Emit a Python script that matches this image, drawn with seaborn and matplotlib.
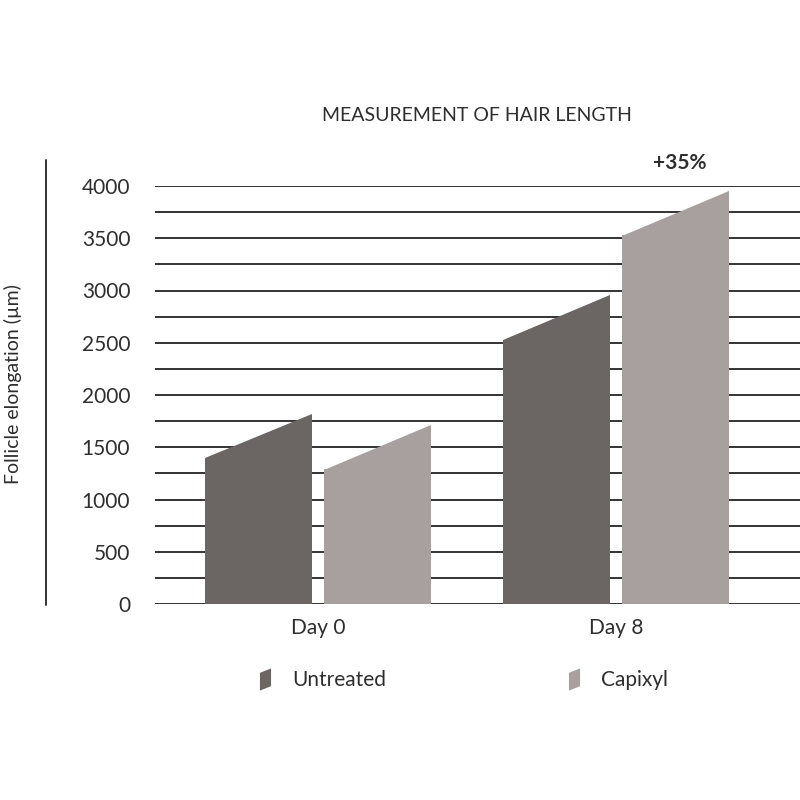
import pandas as pd
import matplotlib.pyplot as plt
import seaborn as sns
from matplotlib.patches import Polygon
from matplotlib.lines import Line2D
from matplotlib.path import Path

days = ["Day 0", "Day 8"]
groups = ["Untreated", "Capixyl"]
# left edge height and right edge height of each slanted bar
left_vals = {"Untreated": [1400, 2530], "Capixyl": [1290, 3530]}
right_vals = {"Untreated": [1820, 2960], "Capixyl": [1710, 3950]}
colores = {"Untreated": "#6b6564", "Capixyl": "#a7a09f"}
texto = "#2e2e2e"

filas = []
for g in groups:
    for i, d in enumerate(days):
        filas.append({"Day": d, "Group": g, "Low": left_vals[g][i], "High": right_vals[g][i]})
df = pd.DataFrame(filas)

sns.set_theme(style="white")
plt.rcParams['font.family'] = ['Lato', 'DejaVu Sans']

fig = plt.figure(figsize=(8, 8), dpi=100)
ax = fig.add_axes([0.194, 0.245, 0.806, 0.5225])

for y in range(0, 4001, 250):
    ax.axhline(y, color="#333333", lw=1.4, zorder=0)

sns.barplot(data=df, x="Day", y="Low", hue="Group", hue_order=groups,
            palette=colores, width=0.8, gap=0.1, saturation=1, linewidth=0,
            legend=False, ax=ax, zorder=2)

# slanted tops
for cont, g in zip(ax.containers, groups):
    for patch, hi in zip(cont.patches, right_vals[g]):
        x0 = patch.get_x()
        x1 = x0 + patch.get_width()
        lo = patch.get_height()
        ax.add_patch(Polygon([(x0, lo - 5), (x1, lo - 5), (x1, hi)], closed=True,
                             color=colores[g], lw=0, zorder=2))

ax.set_xlim(-0.547, 1.617)
ax.set_ylim(0, 4000)
ax.set_yticks(range(0, 4001, 500))
ax.tick_params(axis="y", length=0, pad=18, labelsize=15, labelcolor=texto)
ax.tick_params(axis="x", length=0, pad=10, labelsize=15, labelcolor=texto)
ax.set_xlabel("")
ax.set_ylabel("")
for s in ["top", "right", "bottom", "left"]:
    ax.spines[s].set_visible(False)

# separate vertical axis line
fig.add_artist(Line2D([0.057, 0.057], [0.244, 0.80], color="#333333", lw=1.4))

fig.text(0.596, 0.856, "MEASUREMENT OF HAIR LENGTH", ha="center", va="center",
         fontsize=14, color=texto)
fig.text(0.016, 0.52, "Follicle elongation (µm)", rotation=90, ha="center",
         va="center", fontsize=14, color=texto)
fig.text(0.85, 0.796, "+35%", ha="center", va="center", fontsize=15,
         fontweight="bold", color=texto)

marcador = Path([(-0.5, -1), (0.5, -0.6), (0.5, 1), (-0.5, 0.6), (-0.5, -1)])
handles = [Line2D([], [], marker=marcador, ls="", markersize=16,
                  color=colores[g], markeredgewidth=0) for g in groups]
fig.legend(handles, groups, loc="center", bbox_to_anchor=(0.57, 0.15), ncol=2,
           frameon=False, fontsize=15, labelcolor=texto, columnspacing=8,
           handletextpad=0.3)

plt.savefig("out.png", dpi=100)
